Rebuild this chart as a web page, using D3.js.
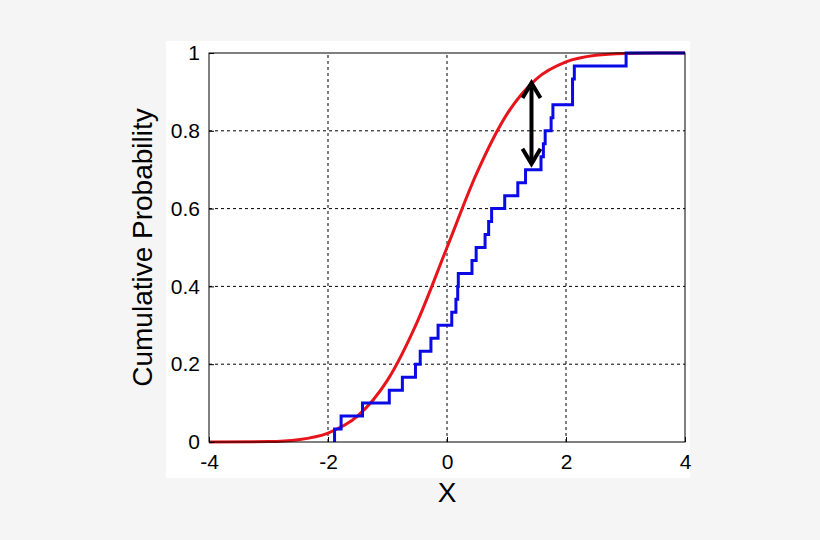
<!DOCTYPE html>
<html><head><meta charset="utf-8">
<script src="https://cdn.jsdelivr.net/npm/d3@7"></script>
<style>body{margin:0;background:#f5f5f5}</style>
</head><body><svg id="chart"></svg>
<script>
// empirical sample (30 points)
const samples = [-1.89,-1.78,-1.42,-0.97,-0.75,-0.53,-0.45,-0.27,-0.15,0.08,0.15,0.18,0.19,0.42,0.49,0.64,0.70,0.75,0.97,1.19,1.32,1.58,1.62,1.65,1.75,1.78,2.11,2.11,2.14,3.01];
// theoretical CDF
const cdfX = [-4,-3,-2.5,-2,-1.5,-1,-0.5,0,0.5,1,1.5,2,2.5,3,3.5,4];
const cdfY = [0,0.001,0.006,0.023,0.067,0.159,0.309,0.5,0.691,0.841,0.933,0.977,0.994,0.999,1,1];
const xTicks = [-4,-2,0,2,4];
const yTicks = [0,0.2,0.4,0.6,0.8,1];
const arrowX = 1.42, arrowY = [0.928, 0.71];

const W = 820, H = 540;
const svg = d3.select('#chart').attr('width', W).attr('height', H);
svg.append('rect').attr('x',166).attr('y',41).attr('width',524).attr('height',437).attr('fill','#fff');

const x = d3.scaleLinear().domain([-4,4]).range([209,685]);
const y = d3.scaleLinear().domain([0,1]).range([442,53]);
const font = '"Liberation Sans", Arial, sans-serif';

// grid
svg.append('g').selectAll('line').data(xTicks.slice(1,-1)).join('line')
  .attr('x1',d=>x(d)).attr('x2',d=>x(d)).attr('y1',y(0)).attr('y2',y(1))
  .attr('stroke','#000').attr('stroke-dasharray','3,3');
svg.append('g').selectAll('line').data(yTicks.slice(1,-1)).join('line')
  .attr('y1',d=>y(d)).attr('y2',d=>y(d)).attr('x1',x(-4)).attr('x2',x(4))
  .attr('stroke','#000').attr('stroke-dasharray','3,3');

// red theoretical curve
svg.append('path').datum(cdfX.map((v,i)=>[v,cdfY[i]]))
  .attr('d', d3.line().x(d=>x(d[0])).y(d=>y(d[1])).curve(d3.curveMonotoneX))
  .attr('fill','none').attr('stroke','#e8141c').attr('stroke-width',3);

// blue empirical step
const steps = [[-1.89,0]].concat(samples.map((v,i)=>[v,(i+1)/samples.length]));
steps.push([4,1]);
svg.append('path').datum(steps)
  .attr('d', d3.line().x(d=>x(d[0])).y(d=>y(d[1])).curve(d3.curveStepAfter))
  .attr('fill','none').attr('stroke','#0a0ae6').attr('stroke-width',3);

// frame
svg.append('rect').attr('x',x(-4)).attr('y',y(1)).attr('width',x(4)-x(-4)).attr('height',y(0)-y(1))
  .attr('fill','none').attr('stroke','#000');

// axes
const xa = svg.append('g').attr('transform',`translate(0,${y(0)})`)
  .call(d3.axisBottom(x).tickValues(xTicks).tickSize(-5).tickPadding(9).tickFormat(d=>String(d)));
const ya = svg.append('g').attr('transform',`translate(${x(-4)},0)`)
  .call(d3.axisLeft(y).tickValues(yTicks).tickSize(-5).tickPadding(9).tickFormat(d=>d===0||d===1?d:d.toFixed(1)));
[xa,ya].forEach(g=>{
  g.select('.domain').remove();
  g.selectAll('text').attr('font-family',font).attr('font-size',21).attr('fill','#000');
});
xa.selectAll('text').attr('dy','0.85em');

svg.append('text').attr('x',(x(-4)+x(4))/2).attr('y',502).attr('text-anchor','middle')
  .attr('font-family',font).attr('font-size',28).text('X');
svg.append('text').attr('transform',`translate(152,${(y(0)+y(1))/2}) rotate(-90)`)
  .attr('text-anchor','middle').attr('font-family',font).attr('font-size',28).text('Cumulative Probability');

// double arrow
const ax = x(arrowX), y1 = y(arrowY[0]), y2 = y(arrowY[1]);
svg.append('line').attr('x1',ax).attr('x2',ax).attr('y1',y1+2).attr('y2',y2-2)
  .attr('stroke','#000').attr('stroke-width',4);
svg.append('path').attr('d',`M${ax-9},${y1+17}L${ax},${y1+2}L${ax+9},${y1+17}M${ax-9},${y2-17}L${ax},${y2-2}L${ax+9},${y2-17}`)
  .attr('fill','none').attr('stroke','#000').attr('stroke-width',4);
</script></body></html>
